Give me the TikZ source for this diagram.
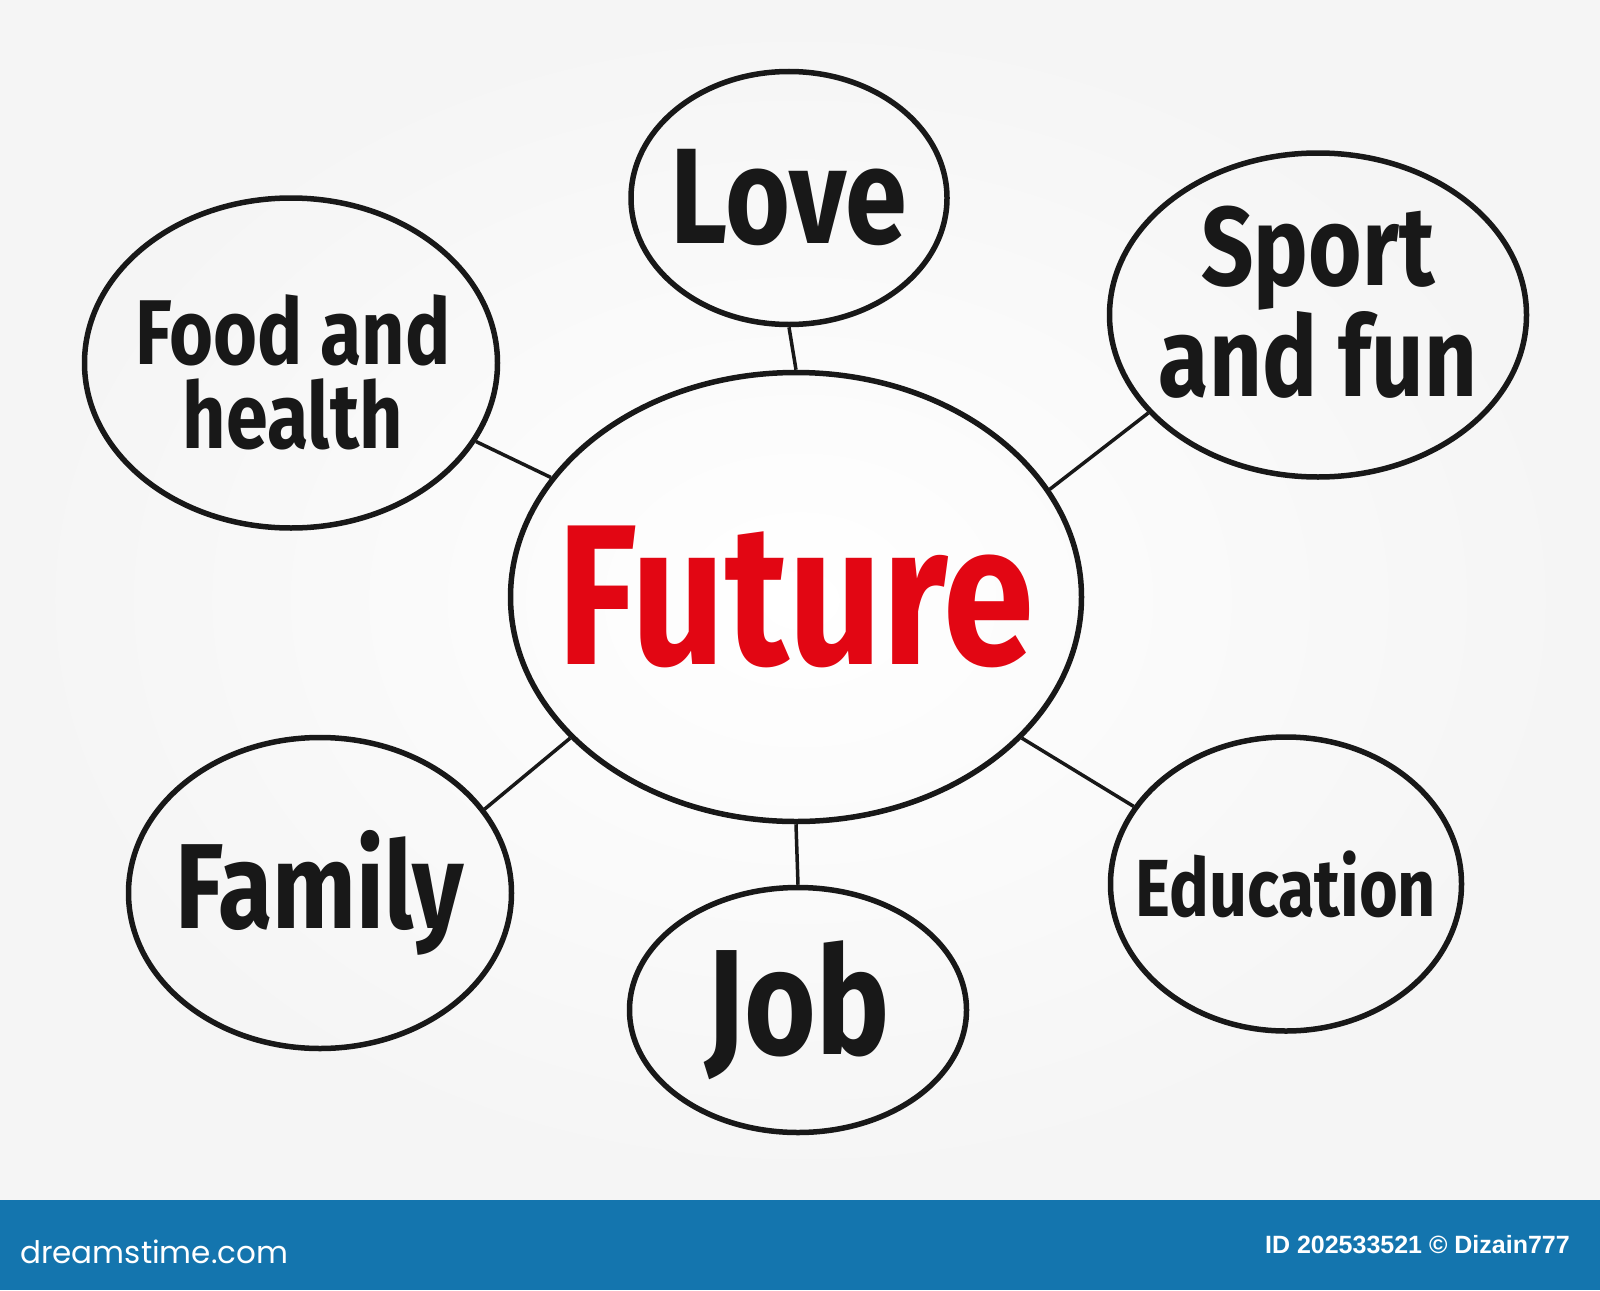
\documentclass[tikz,border=0pt]{standalone}
\usepackage{fontspec}
\setmainfont{Fira Sans}
\newfontfamily\handfont[FakeStretch=0.82]{Fira Sans}
\newfontfamily\brandfont{Poppins}
\newfontfamily\creditfont{Liberation Sans}
\usepackage{tikz}
\usetikzlibrary{shapes.geometric}
\definecolor{barblue}{RGB}{20,117,174}
\definecolor{futurered}{RGB}{226,6,19}
\definecolor{ink}{RGB}{24,24,24}

\begin{document}
\begin{tikzpicture}[x=1pt,y=-1pt,
    bubble/.style={ellipse,draw=ink,line width=5.5pt,inner sep=0pt},
    word/.style 2 args={inner sep=0pt,align=center,text=ink,
        font=\handfont\bfseries\fontsize{#1}{#2}\selectfont},
    link/.style={draw=ink,line width=3.5pt}]
\useasboundingbox (0,0) rectangle (1600,1290);
\shade[inner color=white,outer color=black!4] (0,0) rectangle (1600,1200);

    % centre and the six topics
    \node[bubble,minimum width=571pt,minimum height=449pt] (future) at (796,597) {};
    \node[bubble,minimum width=316pt,minimum height=253pt] (love) at (789,198) {};
    \node[bubble,minimum width=413pt,minimum height=330pt] (food) at (291,363) {};
    \node[bubble,minimum width=417pt,minimum height=324pt] (sport) at (1318,315) {};
    \node[bubble,minimum width=383pt,minimum height=311pt] (family) at (320,893) {};
    \node[bubble,minimum width=337pt,minimum height=245pt] (job) at (798,1010) {};
    \node[bubble,minimum width=351pt,minimum height=294pt] (education) at (1286,884) {};

    \node[word={200}{200},text=futurered] (futuretext) at (future) {Future};
    \node[word={136}{136}] (lovetext) at (love) {Love};
    \node[word={92}{84}] (foodtext) at (293,372) {Food and\\health};
    \node[word={112}{95}] (sporttext) at (1318,302) {Sport\\and fun};
    \node[word={121}{121}] (familytext) at (family) {Family};
    \node[word={150}{150}] (jobtext) at (job) {Job};
    \node[word={81}{81}] (educationtext) at (education) {Education};

    \draw[link] (love.270) -- (future.90);
    \draw[link] (food.337.4) -- (future.154.5);
    \draw[link] (sport.210.7) -- (future.23.8);
    \draw[link] (family.27) -- (future.212.5);
    \draw[link] (job.90) -- (future.270);
    \draw[link] (education.153.6) -- (future.328.7);

    % credit bar
    \fill[barblue] (0,1200) rectangle (1600,1290);
    \node[anchor=base west,inner sep=0pt,text=white,
          font=\brandfont\fontsize{31}{31}\selectfont] (brand) at (20,1263) {dreamstime.com};
    \node[anchor=base east,inner sep=0pt,text=white,
          font=\creditfont\bfseries\fontsize{25}{25}\selectfont] (credit) at (1570,1253)
        {ID 202533521 © Dizain777};
\end{tikzpicture}
\end{document}
